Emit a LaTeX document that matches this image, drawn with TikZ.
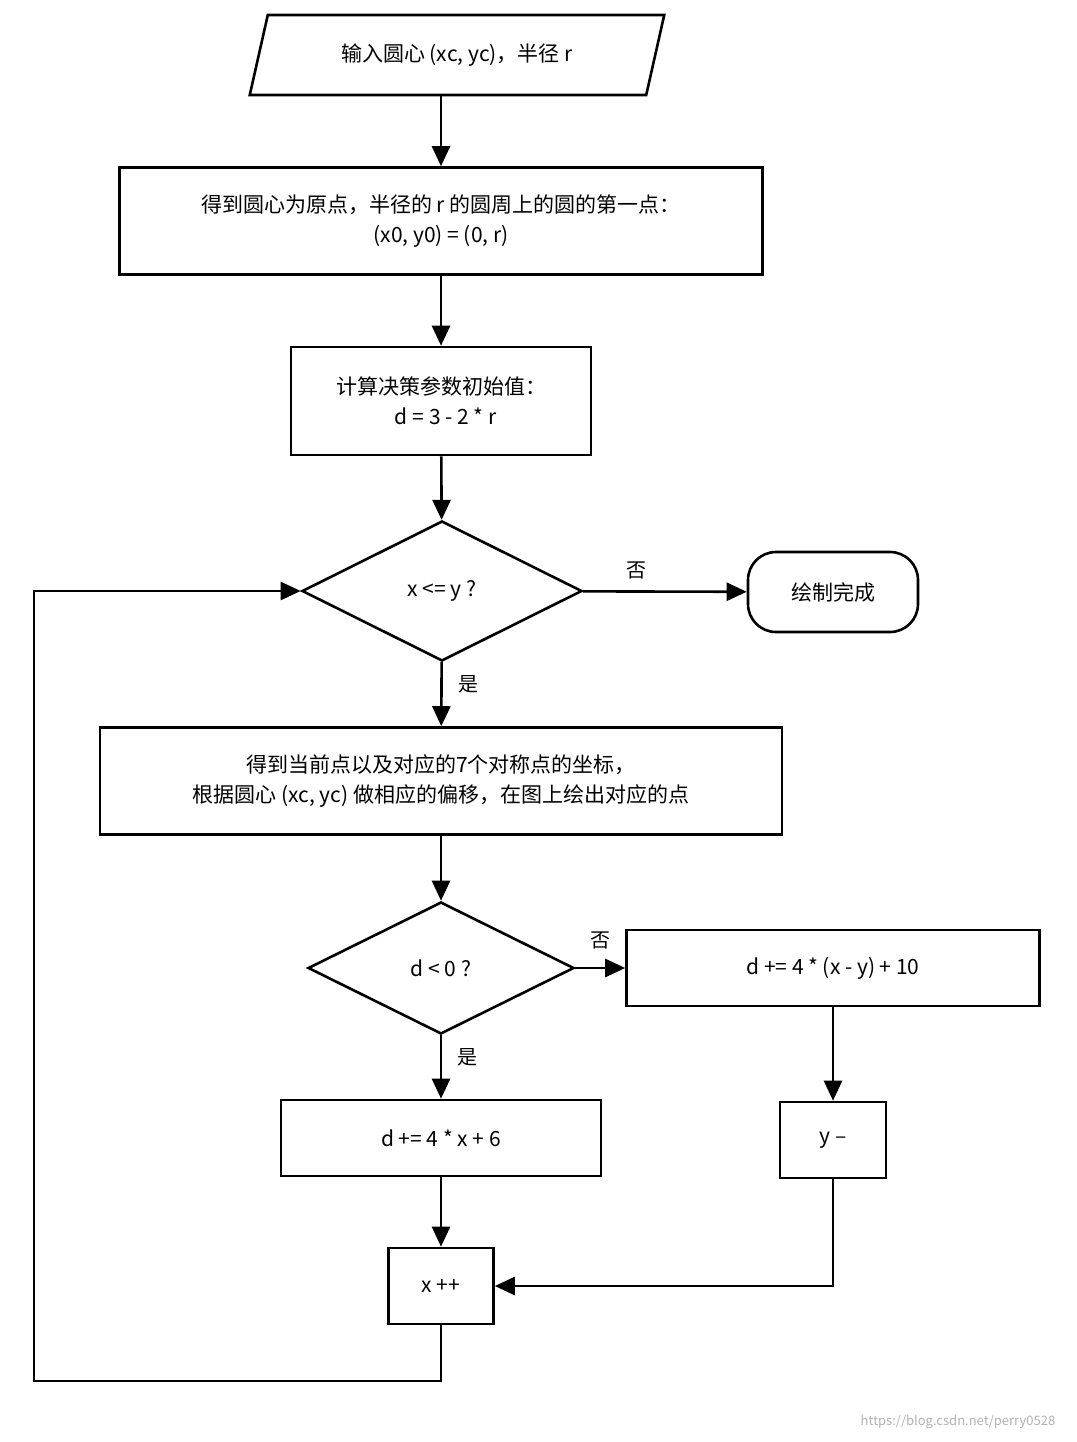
\documentclass[tikz,border=0pt]{standalone}
\usepackage{fontspec}
\setmainfont{Noto Sans CJK SC}
\usetikzlibrary{shapes.geometric,arrows.meta}
\begin{document}
\begin{tikzpicture}[x=1pt,y=-1pt,
  every node/.style={font=\fontsize{21}{30}\selectfont},
  box/.style={draw,line width=2.6pt,rectangle,inner sep=0pt,align=center},
  dia/.style={draw,line width=2.6pt,diamond,aspect=2,inner sep=0pt,minimum width=280pt,minimum height=140pt},
  arr/.style={line width=2.6pt,-{Triangle[length=20pt,width=18pt]}},
  lab/.style={font=\fontsize{20}{24}\selectfont}]
\useasboundingbox (0,0) rectangle (1076,1442);
\node[box,trapezium,trapezium left angle=64,trapezium right angle=116,minimum width=415pt,minimum height=80pt,trapezium stretches=true] (in) at (457,55) {输入圆心 (xc, yc)，半径 r};
\node[box,minimum width=643pt,minimum height=107pt] (b2) at (441,221) {得到圆心为原点，半径的 r 的圆周上的圆的第一点：\\(x0, y0) = (0, r)};
\node[box,minimum width=300pt,minimum height=108pt] (b3) at (441,401) {计算决策参数初始值：\\\ \ d = 3 - 2 * r};
\node[dia] (d1) at (442,591) {x <= y ?};
\node[box,rounded corners=28pt,minimum width=170pt,minimum height=80pt] (end) at (833,592) {绘制完成};
\node[box,minimum width=682pt,minimum height=107pt] (b4) at (441,781) {得到当前点以及对应的7个对称点的坐标，\\根据圆心 (xc, yc) 做相应的偏移，在图上绘出对应的点};
\node[dia,minimum width=266pt,minimum height=132pt] (d2) at (441,968) {d < 0 ?};
\node[box,minimum width=413pt,minimum height=76pt] (b5) at (833,968) {d += 4 * (x - y) + 10};
\node[box,minimum width=320pt,minimum height=76pt] (b6) at (441,1138) {d += 4 * x + 6};
\node[box,minimum width=106pt,minimum height=76pt] (b7) at (833,1140) {y --};
\node[box,minimum width=105pt,minimum height=76pt] (b8) at (441,1286) {x ++};
\coordinate (c1) at (441,1381);
\coordinate (c2) at (34,1381);
\coordinate (c3) at (34,591);
\draw[arr] (in.south -| b2) -- (b2);
\draw[arr] (b2) -- (b3);
\draw[arr] (b3) -- (d1);
\draw[arr] (d1) -- (end) node[lab,pos=0.33,above=8pt] {否};
\draw[arr] (d1) -- (b4) node[lab,pos=0.35,right=12pt] {是};
\draw[arr] (b4) -- (d2);
\draw[arr] (d2) -- (b5) node[lab,midway,above=14pt] {否};
\draw[arr] (d2) -- (b6) node[lab,pos=0.35,right=12pt] {是};
\draw[arr] (b5) -- (b7);
\draw[arr] (b6) -- (b8);
\draw[arr] (b7.south) |- (b8.east);
\draw[arr] (b8.south) -- (c1) -- (c2) -- (c3) -- (d1.west);
\node[text=gray!60,font=\fontsize{13}{15}\selectfont] (wm) at (958,1422) {https://blog.csdn.net/perry0528};
\end{tikzpicture}
\end{document}
